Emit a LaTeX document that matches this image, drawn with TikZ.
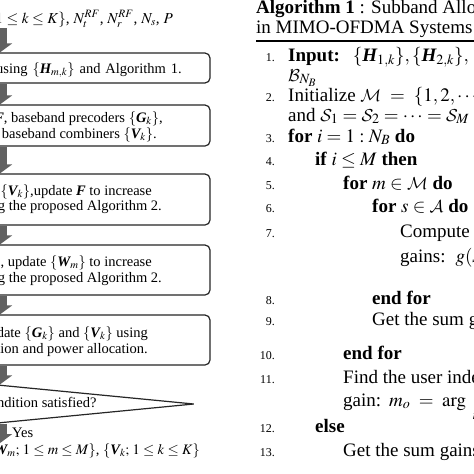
\documentclass[tikz,border=0pt]{standalone}
\usepackage{amsmath}
\usepackage{mathptmx}
\usepackage{fontspec}
\setmainfont{Liberation Serif}
\DeclareMathAlphabet{\mathcal}{OMS}{cmsy}{m}{n}
\usetikzlibrary{arrows.meta,shapes.geometric}
\newcommand{\bv}[1]{\text{\bfseries\itshape #1}}

\begin{document}
\begin{tikzpicture}[x=1pt,y=-1pt,
    box/.style={draw=black!85,line width=1.2pt,rounded corners=5pt,minimum width=420pt,inner sep=0pt},
    fc/.style={font=\fontsize{14.5}{17}\selectfont,inner sep=0pt,anchor=base east},
    al/.style={font=\fontsize{19}{23}\selectfont,inner sep=0pt,anchor=base west},
    num/.style={font=\fontsize{12}{14}\selectfont,inner sep=0pt,anchor=base east},
    flow/.style={draw=black!62,line width=14pt,-{Triangle[width=24pt,length=9pt]}}]
  \useasboundingbox (0,0) rectangle (474,474);
  \fill[white] (0,0) rectangle (474,474);
  \clip (0,0) rectangle (474,474);

  \node[fc,font=\fontsize{15.2}{18}\selectfont] (inp) at (173,23.5) {Input: $\{\bv{H}_{m,k};\ 1\le m\le M,\ 1\le k\le K\}$, $N_t^{RF}$, $N_r^{RF}$, $N_s$, $P$};
  \node[box,minimum height=30pt] (b1) at (0,68) {};
  \node[fc] (t1) at (182,73) {\spaceskip=5pt Compute $\{\bv{W}_m\}$ using $\{\bv{H}_{m,k}\}$ and Algorithm 1.};
  \node[box,minimum height=41pt] (b2) at (0,125.5) {};
  \node[fc] (t2a) at (163,122.5) {Compute analog precoder $\bv{F}$, baseband precoders $\{\bv{G}_k\}$,};
  \node[fc] (t2b) at (157,138.5) {and baseband combiners $\{\bv{V}_k\}$.};
  \node[box,minimum height=51pt] (b3) at (0,199.5) {};
  \node[fc] (t3a) at (152,195) {Given $\{\bv{W}_m\}$, $\{\bv{G}_k\}$ and $\{\bv{V}_k\}$,update $\bv{F}$ to increase};
  \node[fc] (t3b) at (162,210.5) {the sum rate using the proposed Algorithm 2.};
  \node[box,minimum height=50pt] (b4) at (0,270) {};
  \node[fc] (t4a) at (152,266) {Given $\bv{F}$, $\{\bv{G}_k\}$ and $\{\bv{V}_k\}$, update $\{\bv{W}_m\}$ to increase};
  \node[fc] (t4b) at (162,282) {the sum rate using the proposed Algorithm 2.};
  \node[box,minimum height=50pt] (b5) at (0,340) {};
  \node[fc] (t5a) at (148,337) {Update $\{\bv{G}_k\}$ and $\{\bv{V}_k\}$ using};
  \node[fc] (t5b) at (148,353) {the block diagonalization and power allocation.};
  \node[diamond,draw=black!85,line width=1.2pt,shape aspect=10.2,minimum width=388pt,minimum height=38pt,inner sep=0pt,
        font=\fontsize{14.5}{17}\selectfont] (cond) at (0,404) {Convergence condition satisfied?};
  \node[fc,anchor=base west] (yes) at (12,437) {Yes};
  \node[fc] (out) at (200,454) {Output: $\bv{F}$, $\{\bv{W}_m;\,1\le m\le M\}$, $\{\bv{V}_k;\,1\le k\le K\}$};

  \draw[flow] (b1.north |- inp.south) -- (b1.north);
  \draw[flow] (b1) -- (b2);
  \draw[flow] (b2) -- (b3);
  \draw[flow] (b3) -- (b4);
  \draw[flow] (b4) -- (b5);
  \draw[flow] (b5) -- (cond);
  \draw[flow] (cond) -- (cond.south |- out.north);

  \node[al] (title) at (256,13) {\textbf{Algorithm 1} : Subband Allocation for Hybrid Precoding};
  \node[al] (title2) at (256,33.5) {in MIMO-OFDMA Systems};
  \draw[line width=1.2pt] (256,41) -- (480,41);
  \foreach \n/\y in {1/61,2/101.7,3/142,4/165,5/189,6/212.7,7/237,8/304,9/325,10/359,11/383,12/432,13/456}
    \node[num] (n\n) at (275,\y) {\n.};
  \node[al] (l1) at (288,61) {\textbf{Input:}\hspace{13pt}$\{\bv{H}_{1,k}\},\{\bv{H}_{2,k}\},\ \cdots,\{\bv{H}_{M,k}\}$,};
  \node[al] (l1b) at (288,81) {$\mathcal{B}_{N_B}$};
  \node[al] (l2) at (288,101.7) {Initialize $\mathcal{M}\ =\ \{1,2,\cdots,M\}$,};
  \node[al] (l2b) at (288,121) {and $\mathcal{S}_1=\mathcal{S}_2=\cdots=\mathcal{S}_M=\emptyset$.};
  \node[al] (l3) at (288,142) {\textbf{for} $i=1:N_B$ \textbf{do}};
  \node[al] (l4) at (315,165) {\textbf{if} $i\le M$ \textbf{then}};
  \node[al] (l5) at (343,189) {\textbf{for} $m\in\mathcal{M}$ \textbf{do}};
  \node[al] (l6) at (372,212.7) {\textbf{for} $s\in\mathcal{A}$ \textbf{do}};
  \node[al] (l7) at (400,237) {Compute the channel};
  \node[al] (l7b) at (400,262) {gains:\hspace{10pt}$g(s,m)$};
  \node[al] (l8) at (372,304) {\textbf{end for}};
  \node[al] (l9) at (372,325) {Get the sum gain};
  \node[al] (l10) at (343,359) {\textbf{end for}};
  \node[al] (l11) at (343,383) {Find the user index with};
  \node[al] (l11b) at (343,406) {gain:\hspace{8pt}$m_o\;=\;\arg\ \max\limits_{m\in\mathcal{M}} G_m$};
  \node[al] (l12) at (315,432) {\textbf{else}};
  \node[al] (l13) at (343,456) {Get the sum gains};
\end{tikzpicture}
\end{document}
